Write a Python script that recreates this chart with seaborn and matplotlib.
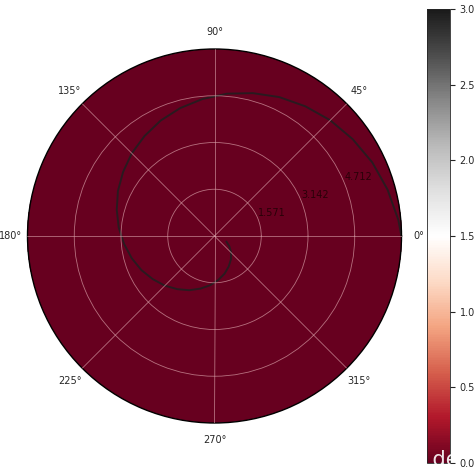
import numpy as np
import matplotlib
matplotlib.use("Agg")
import matplotlib.pyplot as plt
import seaborn as sns

# spiral: angle (degrees, clockwise) and radius
spiral_deg = [-25, -35, -45, -55, -65, -75, -85, -95, -105, -115, -125, -135,
              -145, -155, -165, -175, -185, -195, -205, -215, -225, -235, -245,
              -255, -265, -275, -285, -295, -305, -315, -325, -335, -345, -355, -360]
spiral_r = [0.44, 0.61, 0.79, 0.96, 1.13, 1.31, 1.48, 1.66, 1.83, 2.01, 2.18, 2.36,
            2.53, 2.71, 2.88, 3.05, 3.23, 3.40, 3.58, 3.75, 3.93, 4.10, 4.28,
            4.45, 4.62, 4.80, 4.97, 5.15, 5.32, 5.50, 5.67, 5.85, 6.02, 6.20, 6.28]

# background mesh (all zero)
mesh_theta = np.linspace(0, 2 * np.pi, 73)
mesh_r = np.linspace(0, 2 * np.pi, 41)
mesh_vals = np.zeros((len(mesh_r) - 1, len(mesh_theta) - 1))

rticks = [1.571, 3.142, 4.712]

sns.set_style("white")
plt.rcParams["font.family"] = ["DejaVu Sans"]

fig = plt.figure(figsize=(4.74, 4.75), dpi=100)
ax = fig.add_axes([27 / 474, 52 / 475, 375 / 474, 374 / 475], projection="polar")
cax = fig.add_axes([427 / 474, 12 / 475, 23 / 474, 454 / 475])

mesh = ax.pcolormesh(mesh_theta, mesh_r, mesh_vals, cmap="RdGy", vmin=0, vmax=3, shading="flat")

sns.lineplot(x=np.deg2rad(spiral_deg), y=spiral_r, ax=ax, sort=False, estimator=None,
             color="#1f1f1f", linewidth=1.4, alpha=0.85)

ax.set_ylim(0, 2 * np.pi)
ax.set_rticks(rticks)
ax.set_yticklabels([f"{t:.3f}" for t in rticks], fontsize=7, color="#2a0008")
ax.set_rlabel_position(22.5)
ax.tick_params(axis="x", labelsize=7, pad=2)
ax.grid(True, color="#d9a0a8", linewidth=0.6, alpha=0.7)
ax.set_axisbelow(False)
ax.set_xlabel("")
ax.set_ylabel("")
ax.spines["polar"].set_color("black")
ax.spines["polar"].set_linewidth(1.0)

cb = fig.colorbar(mesh, cax=cax)
cb.set_ticks([0.0, 0.5, 1.0, 1.5, 2.0, 2.5, 3.0])
cb.ax.tick_params(labelsize=7)
cb.outline.set_linewidth(0.6)

fig.text(0.872, 0.018, "e de", fontsize=15, color="white", alpha=0.9)

fig.savefig("out.png", dpi=100)
